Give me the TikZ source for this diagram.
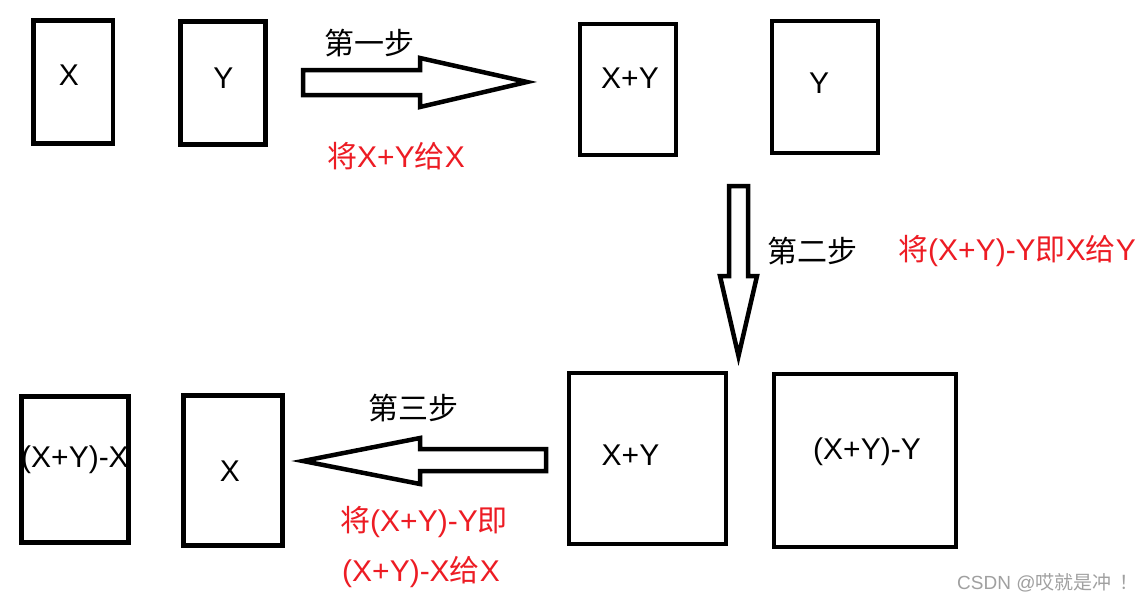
\documentclass[tikz,border=0pt]{standalone}
\usepackage{fontspec}
\setmainfont{Liberation Sans}
\newfontfamily\cjk{Noto Sans CJK SC}
\definecolor{pred}{RGB}{237,28,36}
\definecolor{wm}{RGB}{160,160,160}
\begin{document}
\begin{tikzpicture}[x=1pt,y=-1pt,
  box/.style={draw, line width=4.5pt, inner sep=0pt, rectangle},
  lbl/.style={inner sep=0pt, font=\fontsize{30}{36}\selectfont},
  redlbl/.style={lbl, text=pred},
  barrow/.style={draw, line width=4.5pt, line join=miter, fill=white},
  wmark/.style={inner sep=0pt, text=wm, font=\fontsize{19}{23}\selectfont}]
\fill[white] (0,0) rectangle (1144,603);
\useasboundingbox (0,0) rectangle (1144,603);

% boxes
\node[box, minimum width=79.5pt, minimum height=123pt] (b1) at (73.25,82) {};
\node[box, minimum width=85pt, minimum height=123pt] (b2) at (223,83) {};
\node[box, minimum width=96pt, minimum height=131pt] (b3) at (628,89.5) {};
\node[box, minimum width=106pt, minimum height=132pt] (b4) at (825,87) {};
\node[box, minimum width=157pt, minimum height=171pt] (b5) at (647.5,458.5) {};
\node[box, minimum width=182pt, minimum height=173pt] (b6) at (865,460.5) {};
\node[box, minimum width=107pt, minimum height=146pt] (b7) at (75,469.5) {};
\node[box, minimum width=99pt, minimum height=150pt] (b8) at (233,470.5) {};

% box texts
\node[lbl, anchor=base] (t1) at (69,85) {X};
\node[lbl, anchor=base] (t2) at (223.5,88) {Y};
\node[lbl, anchor=base] (t3) at (630,88) {X+Y};
\node[lbl, anchor=base] (t4) at (819,93) {Y};
\node[lbl, anchor=base] (t5) at (630.5,465) {X+Y};
\node[lbl, anchor=base] (t6) at (867,459) {(X+Y)-Y};
\node[lbl, anchor=base] (t7) at (75,467) {(X+Y)-X};
\node[lbl, anchor=base] (t8) at (230,481) {X};

% block arrows
\draw[barrow] (303,70) -- (420,70) -- (420,58) -- (527,82) -- (420,107) -- (420,95) -- (303,95) -- cycle;
\draw[barrow] (729,186) -- (748,186) -- (748,276) -- (757,276) -- (738.5,356) -- (720,276) -- (729,276) -- cycle;
\draw[barrow] (546,449) -- (420,449) -- (420,438) -- (303,461) -- (420,484) -- (420,471) -- (546,471) -- cycle;

% step labels
\node[lbl] (s1) at (369,43.5) {\cjk 第一步};
\node[redlbl] (r1) at (396,156.5) {{\cjk 将}X+Y{\cjk 给}X};
\node[lbl] (s2) at (812,251) {\cjk 第二步};
\node[redlbl] (r2) at (1017,251) {{\cjk 将}(X+Y)-Y{\cjk 即}X{\cjk 给}Y};
\node[lbl] (s3) at (413,408) {\cjk 第三步};
\node[redlbl] (r3) at (424,522) {{\cjk 将}(X+Y)-Y{\cjk 即}};
\node[redlbl] (r4) at (421,572) {(X+Y)-X{\cjk 给}X};

% watermark
\node[wmark, anchor=west] (w) at (957,583) {CSDN @{\cjk 哎就是冲\kern0.4em ！}};
\end{tikzpicture}
\end{document}
